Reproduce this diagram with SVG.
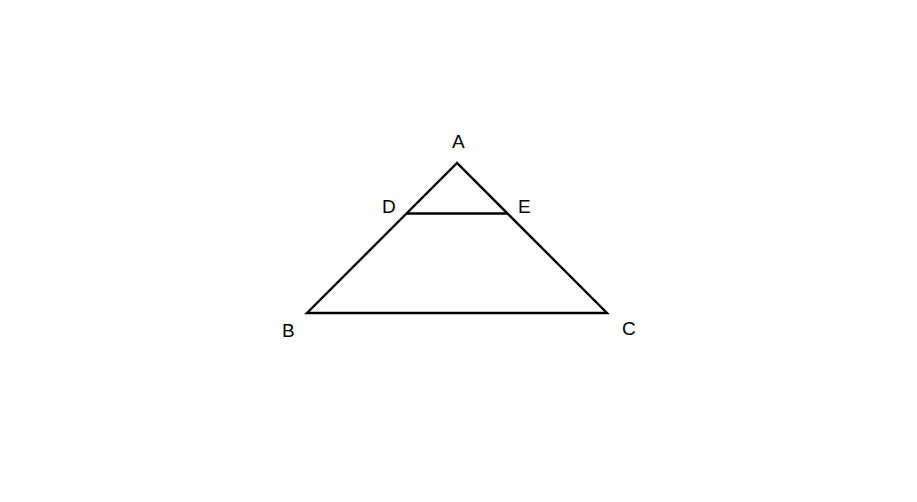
<svg xmlns="http://www.w3.org/2000/svg" width="917" height="502" viewBox="0 0 917 502">
<style>
.ln{stroke:#000;stroke-width:2.4;fill:none;stroke-linejoin:miter}
.lb{font-family:"Liberation Sans",Arial,sans-serif;font-size:19px;fill:#000}
</style>
<rect width="917" height="502" fill="#fff"/>
<g id="connectors">
<path class="ln" d="M457,163 L307,313 L607,313 Z"/>
<line class="ln" x1="407" y1="213.5" x2="507" y2="213.5"/>
</g>
<g id="A"><text class="lb" x="452" y="148">A</text></g>
<g id="D"><text class="lb" x="382" y="213">D</text></g>
<g id="E"><text class="lb" x="518" y="213">E</text></g>
<g id="B"><text class="lb" x="282" y="337">B</text></g>
<g id="C"><text class="lb" x="622" y="335">C</text></g>
</svg>
